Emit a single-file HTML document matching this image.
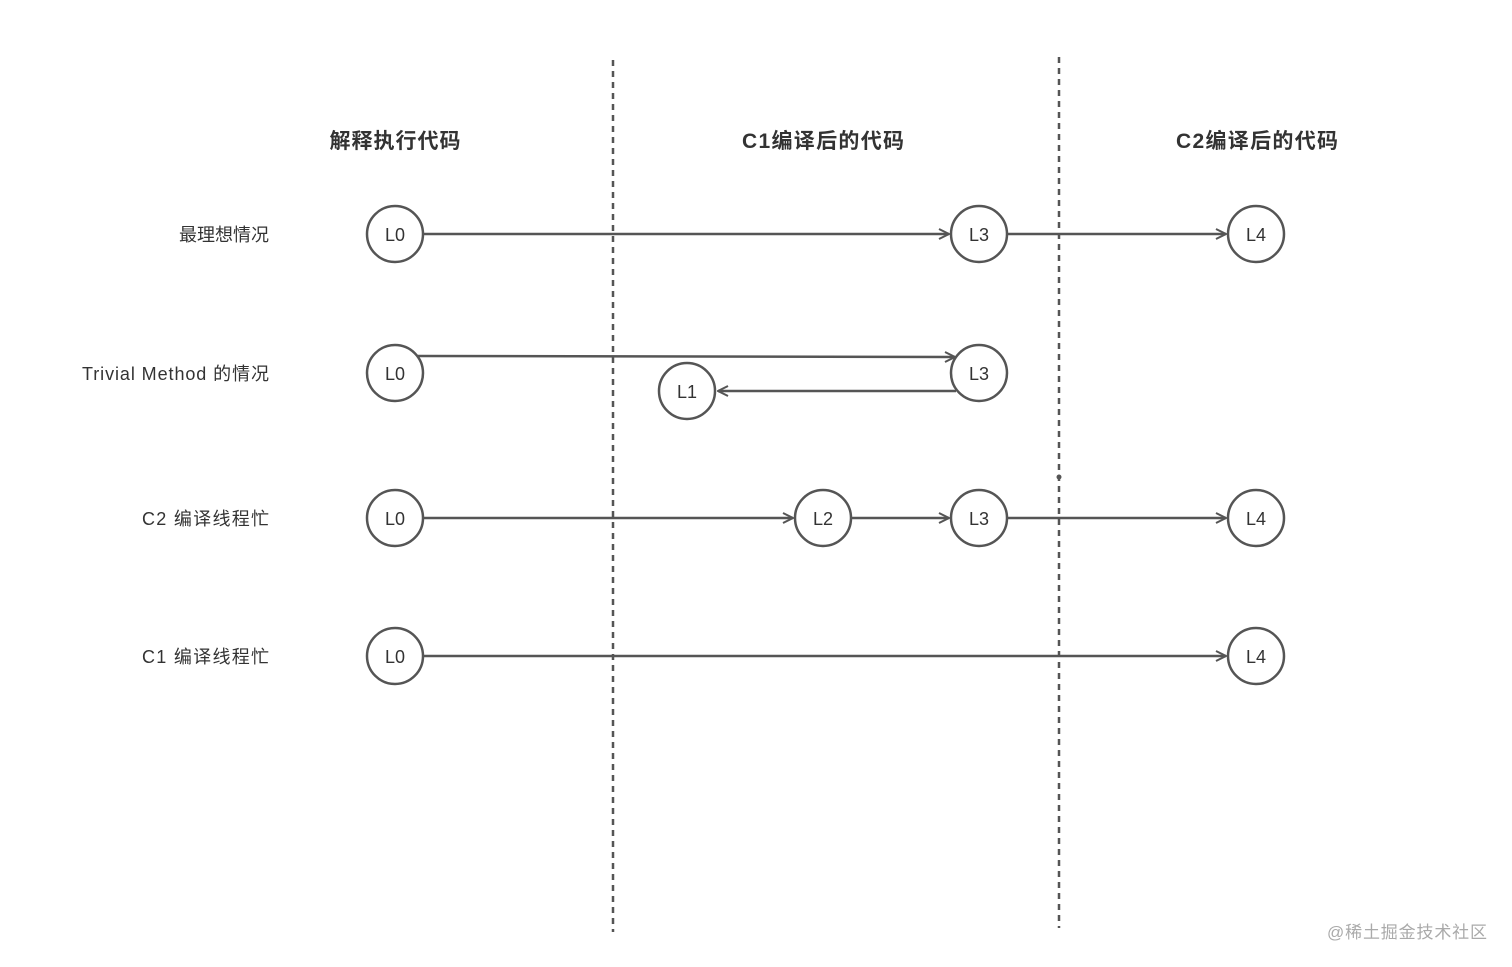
<!DOCTYPE html>
<html><head><meta charset="utf-8"><style>
html,body{margin:0;padding:0;background:#fff;}
svg{display:block;}
text{font-family:"Liberation Sans","Noto Sans CJK SC",sans-serif;fill:#333;}
</style></head><body>
<svg width="1512" height="967" viewBox="0 0 1512 967" xmlns="http://www.w3.org/2000/svg">
<defs>
<marker id="a" viewBox="0 0 12 12" refX="11" refY="6" markerWidth="12" markerHeight="12" markerUnits="userSpaceOnUse" orient="auto">
<path d="M1,1 L11,6 L1,11" fill="none" stroke="#555" stroke-width="2"/>
</marker>
</defs>
<g stroke="#555" stroke-width="2.5" stroke-dasharray="6,5">
<line x1="613" y1="60" x2="613" y2="932"/>
<line x1="1059" y1="57" x2="1059" y2="928"/>
</g>
<circle cx="1059" cy="477" r="2.5" fill="#555"/>
<g font-size="21" font-weight="bold" text-anchor="middle">
<text x="395" y="148" textLength="131">解释执行代码</text>
<text x="823" y="148" textLength="162">C1编译后的代码</text>
<text x="1257" y="148" textLength="162">C2编译后的代码</text>
</g>
<g font-size="18" text-anchor="end">
<text x="269" y="241">最理想情况</text>
<text x="269" y="380" textLength="187">Trivial Method 的情况</text>
<text x="269" y="525" textLength="127">C2 编译线程忙</text>
<text x="269" y="663" textLength="127">C1 编译线程忙</text>
</g>
<g stroke="#555" stroke-width="2.5" fill="none" marker-end="url(#a)">
<line x1="423" y1="234" x2="949" y2="234"/>
<line x1="1007" y1="234" x2="1226" y2="234"/>
<line x1="418" y1="356" x2="955" y2="357"/>
<line x1="956" y1="391" x2="718" y2="391"/>
<line x1="423" y1="518" x2="793" y2="518"/>
<line x1="851" y1="518" x2="949" y2="518"/>
<line x1="1007" y1="518" x2="1226" y2="518"/>
<line x1="423" y1="656" x2="1226" y2="656"/>
</g>
<g stroke="#555" stroke-width="2.5" fill="#fff">
<circle cx="395" cy="234" r="28"/><circle cx="979" cy="234" r="28"/><circle cx="1256" cy="234" r="28"/>
<circle cx="395" cy="373" r="28"/><circle cx="979" cy="373" r="28"/><circle cx="687" cy="391" r="28"/>
<circle cx="395" cy="518" r="28"/><circle cx="823" cy="518" r="28"/><circle cx="979" cy="518" r="28"/><circle cx="1256" cy="518" r="28"/>
<circle cx="395" cy="656" r="28"/><circle cx="1256" cy="656" r="28"/>
</g>
<g font-size="18" text-anchor="middle">
<text x="395" y="241">L0</text><text x="979" y="241">L3</text><text x="1256" y="241">L4</text>
<text x="395" y="380">L0</text><text x="979" y="380">L3</text><text x="687" y="398">L1</text>
<text x="395" y="525">L0</text><text x="823" y="525">L2</text><text x="979" y="525">L3</text><text x="1256" y="525">L4</text>
<text x="395" y="663">L0</text><text x="1256" y="663">L4</text>
</g>
<text x="1487" y="938" font-size="17" text-anchor="end" style="fill:#aaa" textLength="160">@稀土掘金技术社区</text>
</svg>
</body></html>
